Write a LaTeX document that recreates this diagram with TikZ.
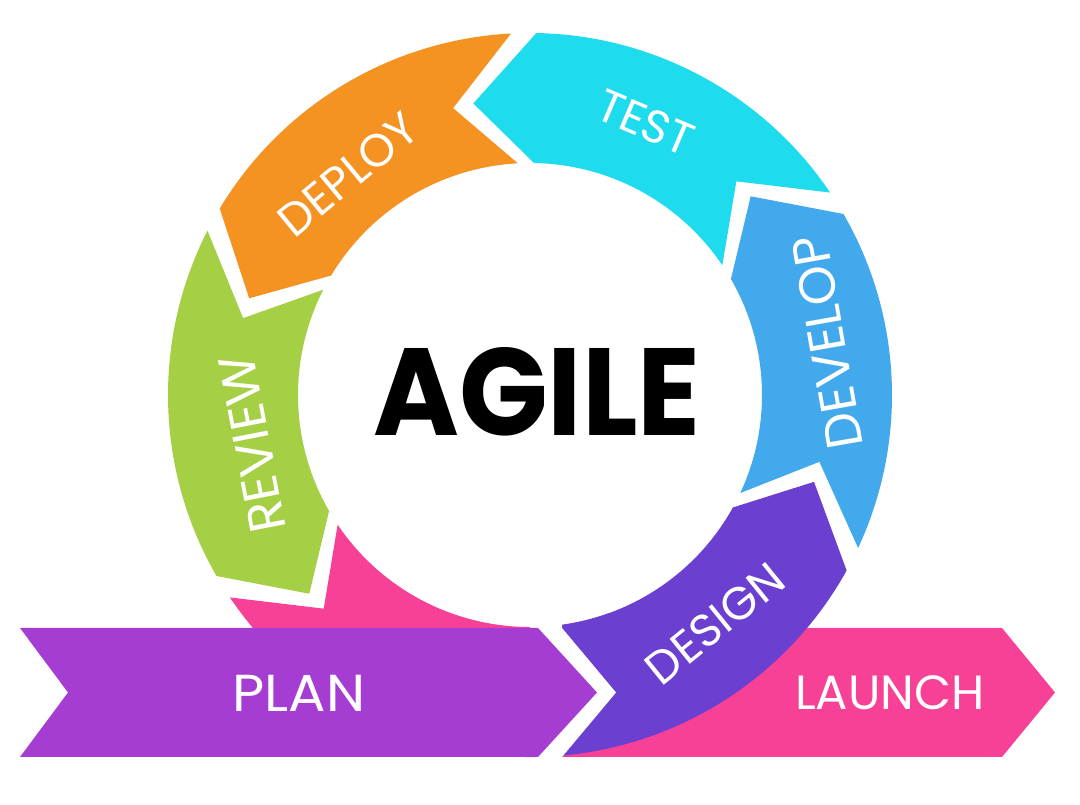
\documentclass[tikz,border=0pt]{standalone}
\usepackage{fontspec}
\setmainfont{Poppins}
\usetikzlibrary{calc}
\definecolor{cplan}{HTML}{A63DD3}
\definecolor{cdesign}{HTML}{6B3FD0}
\definecolor{cdevelop}{HTML}{42A9EC}
\definecolor{ctest}{HTML}{1EDBEE}
\definecolor{cdeploy}{HTML}{F59322}
\definecolor{creview}{HTML}{A5D045}
\definecolor{claunch}{HTML}{F64196}
\newcommand\ringseg[3]{%
  \fill[#1] (#2:362pt) -- ({#2+12}:297pt) -- (#2:232pt)
    arc[start angle=#2, end angle=#3, radius=232pt]
    -- ({#3+12}:297pt) -- (#3:362pt)
    arc[start angle=#3, end angle=#2, radius=362pt] -- cycle;}
\tikzset{
  lbl/.style={text=white, font=\fontsize{46}{50}\selectfont, inner sep=0pt},
  biglbl/.style={text=white, font=\fontsize{51}{55}\selectfont, inner sep=0pt},
  bandlbl/.style={text=white, font=\fontsize{48}{52}\selectfont, inner sep=0pt},
}
\begin{document}
\begin{tikzpicture}[x=1pt,y=1pt]
\useasboundingbox (0,0) rectangle (1080,804);
\coordinate (C) at (530,409);
% launch band + pink ring piece
\fill[claunch] (560,176) -- (1002,176) -- (1055,111.5) -- (1002,47) -- (560,47) -- cycle;
\begin{scope}[shift={(C)}]
  \fill[claunch] (214:362pt) -- (226:297pt) -- (214:232pt)
    arc[start angle=214, end angle=290, radius=232pt]
    -- (290:362pt) arc[start angle=290, end angle=214, radius=362pt] -- cycle;
  % design
  \fill[cdesign] (-85:362pt) -- (-85:232pt)
    arc[start angle=-85, end angle=-29, radius=232pt]
    -- (-17:297pt) -- (-29:362pt)
    arc[start angle=-29, end angle=-85, radius=362pt] -- cycle;
  \ringseg{cdevelop}{-25}{30}
  \ringseg{ctest}{34}{89}
  \ringseg{cdeploy}{93}{149}
  \ringseg{creview}{153}{210}
\end{scope}
% white gap in front of design
\fill[white] (530,182) -- (562,182) -- (562,176) -- (616,111.5) -- (562,47) -- (530,47) -- cycle;
% plan band
\fill[cplan] (20,176) -- (538,176) -- (597,111.5) -- (538,47) -- (20,47) -- (68,111.5) -- cycle;
% labels
\node[bandlbl, font=\fontsize{52}{56}\selectfont, xscale=1.07] (plan) at (299,111) {PLAN};
\node[bandlbl] (launch) at (890,111) {LAUNCH};
\node[lbl, rotate=39] (design) at ($(C)+(-51:294pt)$) {DESIGN};
\node[biglbl, rotate=100] (develop) at ($(C)+(10:302pt)$) {DEVELOP};
\node[lbl, rotate=-23] (test) at ($(C)+(67:296pt)$) {TEST};
\node[lbl, rotate=39.5] (deploy) at ($(C)+(129.5:286pt)$) {DEPLOY};
\node[biglbl, rotate=101] (review) at ($(C)+(190:282pt)$) {REVIEW};
\node[font=\fontsize{124}{130}\selectfont\bfseries, inner sep=0pt, xscale=0.94] (agile) at (537,412) {AGILE};
\end{tikzpicture}
\end{document}
